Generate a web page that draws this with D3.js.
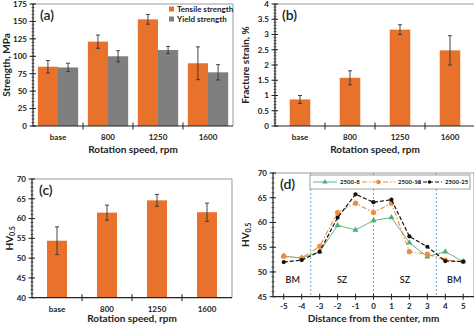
<!DOCTYPE html>
<html>
<head>
<meta charset="utf-8">
<script src="https://cdn.jsdelivr.net/npm/d3@7"></script>
<style>
  html, body { margin: 0; padding: 0; background: #fff; }
  svg { display: block; }
  text { font-family: Lato, "Open Sans", sans-serif; fill: #222; }
</style>
</head>
<body>
<svg id="chart" width="474" height="324"></svg>
<script>
// ---- data ----
const speeds = ["base", "800", "1250", "1600"];
const tensile = [85, 121, 153, 90];
const tensileErr = [9, 9.5, 7, 23.5];
const yieldStr = [84, 100, 109, 77];
const yieldErr = [6, 8, 5, 11];

const fractureStrain = [0.87, 1.58, 3.16, 2.48];
const fractureErr = [0.13, 0.23, 0.16, 0.48];

const hardness = [54.4, 61.5, 64.6, 61.6];
const hardnessErr = [3.5, 1.9, 1.5, 2.3];

const distance = [-5, -4, -3, -2, -1, 0, 1, 2, 3, 4, 5];
const hv2500_8  = [53.2, 52.8, 54.1, 59.4, 58.5, 60.4, 61.0, 55.9, 53.1, 54.1, 52.1];
const hv2500_12 = [53.2, 52.8, 55.2, 62.0, 63.9, 62.0, 63.9, 54.1, 53.6, 52.4, 52.1];
const hv2500_25 = [52.0, 52.4, 54.1, 61.0, 65.7, 64.1, 64.6, 57.2, 55.1, 52.2, 52.1];
const zoneBounds = [-3.5, 0, 3.5];
const zoneLabels = [["BM", -4.5], ["SZ", -1.75], ["SZ", 1.75], ["BM", 4.5]];

const ORANGE = "#E8712B";
const GRAY = "#7F7F7F";
const ERR = "#333";

const svg = d3.select("#chart");

// frame + y axis with major/minor ticks; returns y scale
function panel(g, o) {
  const y = d3.scaleLinear().domain(o.domain).range([o.bottom, o.top]);
  // gray frame (top and right)
  g.append("path")
    .attr("d", `M${o.left},${o.top}H${o.right}V${o.bottom}`)
    .attr("fill", "none").attr("stroke", "#9a9a9a").attr("stroke-width", 1);
  // minor ticks
  const minor = d3.range(o.domain[0], o.domain[1] + 1e-9, o.minor);
  g.selectAll(null).data(minor).enter().append("line")
    .attr("x1", o.left - 1.5).attr("x2", o.left + 1.5)
    .attr("y1", d => y(d)).attr("y2", d => y(d))
    .attr("stroke", "#333").attr("stroke-width", 0.7);
  // major ticks + labels
  const major = d3.range(o.domain[0], o.domain[1] + 1e-9, o.major);
  g.selectAll(null).data(major).enter().append("line")
    .attr("x1", o.left - 3.5).attr("x2", o.left + 3)
    .attr("y1", d => y(d)).attr("y2", d => y(d))
    .attr("stroke", "#222").attr("stroke-width", 1);
  g.selectAll(null).data(major).enter().append("text")
    .attr("x", o.left - 6).attr("y", d => y(d)).attr("dy", "0.35em")
    .attr("text-anchor", "end").attr("font-size", 8).attr("font-weight", 700)
    .text(d => o.fmt ? o.fmt(d) : d);
  // axis lines
  g.append("line").attr("x1", o.left).attr("x2", o.left)
    .attr("y1", o.top).attr("y2", o.bottom).attr("stroke", "#222").attr("stroke-width", 1.2);
  g.append("line").attr("x1", o.left).attr("x2", o.right)
    .attr("y1", o.bottom).attr("y2", o.bottom).attr("stroke", "#222").attr("stroke-width", 1.2);
  // y title
  const t = g.append("text")
    .attr("transform", `translate(${o.ytx},${(o.top + o.bottom) / 2}) rotate(-90)`)
    .attr("text-anchor", "middle").attr("dy", "0.35em")
    .attr("font-size", 10).attr("font-weight", 700);
  if (o.ysub) {
    t.append("tspan").text(o.ytitle);
    t.append("tspan").attr("font-size", 7).attr("dy", "0.3em").text(o.ysub);
  } else t.text(o.ytitle);
  // x title
  g.append("text").attr("x", (o.left + o.right) / 2).attr("y", o.xty)
    .attr("text-anchor", "middle").attr("font-size", 10).attr("font-weight", 700)
    .text(o.xtitle);
  // panel letter
  g.append("text").attr("x", o.left + 7).attr("y", o.top + 16)
    .attr("font-size", 14).attr("font-weight", 600).text(o.letter);
  return y;
}

function categoryAxis(g, o, x) {
  const bounds = speeds.slice(1).map(s => x(s) - x.step() * x.paddingInner() / 2);
  g.selectAll(null).data(bounds).enter().append("line")
    .attr("x1", d => d).attr("x2", d => d)
    .attr("y1", o.bottom - 3.5).attr("y2", o.bottom + 3.5)
    .attr("stroke", "#222").attr("stroke-width", 1);
  g.selectAll(null).data(speeds).enter().append("text")
    .attr("x", d => x(d) + x.bandwidth() / 2).attr("y", o.bottom + 11).attr("dy", "0.35em")
    .attr("text-anchor", "middle").attr("font-size", 8).attr("font-weight", 700)
    .text(d => d);
}

function errorBars(g, xs, vals, errs, y) {
  vals.forEach((v, i) => {
    const cx = xs[i];
    const p = d3.path();
    p.moveTo(cx, y(v + errs[i])); p.lineTo(cx, y(v - errs[i]));
    p.moveTo(cx - 2, y(v + errs[i])); p.lineTo(cx + 2, y(v + errs[i]));
    p.moveTo(cx - 2, y(v - errs[i])); p.lineTo(cx + 2, y(v - errs[i]));
    g.append("path").attr("d", p.toString()).attr("stroke", ERR)
      .attr("stroke-width", 0.9).attr("fill", "none");
  });
}

// ---- (a) strength ----
{
  const o = { left: 33, right: 233, top: 4, bottom: 126, domain: [0, 175], major: 25, minor: 5,
    ytitle: "Strength, MPa", ytx: 6, xtitle: "Rotation speed, rpm", xty: 153, letter: "(a)" };
  const g = svg.append("g");
  const x = d3.scaleBand().domain(speeds).range([o.left, o.right]).paddingInner(0).paddingOuter(0);
  const y = d3.scaleLinear().domain(o.domain).range([o.bottom, o.top]);
  const sub = d3.scaleBand().domain(["t", "y"]).range([0, x.bandwidth()]).paddingInner(0).paddingOuter(0.24);
  g.selectAll(null).data(speeds).enter().append("rect")
    .attr("x", d => x(d) + sub("t")).attr("width", sub.bandwidth())
    .attr("y", (d, i) => y(tensile[i])).attr("height", (d, i) => y(0) - y(tensile[i]))
    .attr("fill", ORANGE);
  g.selectAll(null).data(speeds).enter().append("rect")
    .attr("x", d => x(d) + sub("y")).attr("width", sub.bandwidth())
    .attr("y", (d, i) => y(yieldStr[i])).attr("height", (d, i) => y(0) - y(yieldStr[i]))
    .attr("fill", GRAY);
  errorBars(g, speeds.map(d => x(d) + sub("t") + sub.bandwidth() / 2), tensile, tensileErr, y);
  errorBars(g, speeds.map(d => x(d) + sub("y") + sub.bandwidth() / 2), yieldStr, yieldErr, y);
  panel(g, o);
  categoryAxis(g, o, x);
  // legend
  const leg = [["Tensile strength", ORANGE], ["Yield strength", GRAY]];
  leg.forEach(([name, c], i) => {
    g.append("rect").attr("x", 169).attr("y", 6.5 + i * 10).attr("width", 5).attr("height", 5).attr("fill", c);
    g.append("text").attr("x", 177).attr("y", 9 + i * 10).attr("dy", "0.35em")
      .attr("font-size", 8).attr("font-weight", 700).text(name);
  });
}

// ---- (b) fracture strain ----
{
  const o = { left: 275, right: 475, top: 4, bottom: 126, domain: [0, 4], major: 0.5, minor: 0.1,
    ytitle: "Fracture strain, %", ytx: 245, xtitle: "Rotation speed, rpm", xty: 153, letter: "(b)",
    fmt: d3.format("~g") };
  const g = svg.append("g");
  const x = d3.scaleBand().domain(speeds).range([o.left, o.right]);
  const y = d3.scaleLinear().domain(o.domain).range([o.bottom, o.top]);
  const bw = x.bandwidth() * 0.41;
  g.selectAll(null).data(speeds).enter().append("rect")
    .attr("x", d => x(d) + (x.bandwidth() - bw) / 2).attr("width", bw)
    .attr("y", (d, i) => y(fractureStrain[i])).attr("height", (d, i) => y(0) - y(fractureStrain[i]))
    .attr("fill", ORANGE);
  errorBars(g, speeds.map(d => x(d) + x.bandwidth() / 2), fractureStrain, fractureErr, y);
  panel(g, o);
  categoryAxis(g, o, x);
}

// ---- (c) hardness vs speed ----
{
  const o = { left: 32, right: 232, top: 179, bottom: 297.7, domain: [40, 70], major: 5, minor: 1,
    ytitle: "HV", ysub: "0.5", ytx: 9, xtitle: "Rotation speed, rpm", xty: 322, letter: "(c)" };
  const g = svg.append("g");
  const x = d3.scaleBand().domain(speeds).range([o.left, o.right]);
  const y = d3.scaleLinear().domain(o.domain).range([o.bottom, o.top]);
  const bw = x.bandwidth() * 0.4;
  g.selectAll(null).data(speeds).enter().append("rect")
    .attr("x", d => x(d) + (x.bandwidth() - bw) / 2).attr("width", bw)
    .attr("y", (d, i) => y(hardness[i])).attr("height", (d, i) => y(40) - y(hardness[i]))
    .attr("fill", ORANGE);
  errorBars(g, speeds.map(d => x(d) + x.bandwidth() / 2), hardness, hardnessErr, y);
  panel(g, o);
  categoryAxis(g, o, x);
}

// ---- (d) hardness profile ----
{
  const o = { left: 273, right: 474, top: 173, bottom: 296.7, domain: [45, 70], major: 5, minor: 1,
    ytitle: "HV", ysub: "0.5", ytx: 245, xtitle: "Distance from the center, mm", xty: 322, letter: "(d)" };
  const g = svg.append("g");
  const x = d3.scaleLinear().domain([-5.6, 5.6]).range([o.left, o.right]);
  const y = d3.scaleLinear().domain(o.domain).range([o.bottom, o.top]);
  // zone boundaries
  g.selectAll(null).data(zoneBounds).enter().append("line")
    .attr("x1", d => x(d)).attr("x2", d => x(d)).attr("y1", o.top).attr("y2", o.bottom)
    .attr("stroke", "#6FA8DC").attr("stroke-width", 1).attr("stroke-dasharray", "2,2");
  g.selectAll(null).data(zoneLabels).enter().append("text")
    .attr("x", d => x(d[1])).attr("y", y(48.5)).attr("dy", "0.35em")
    .attr("text-anchor", "middle").attr("font-size", 9).attr("font-weight", 600).text(d => d[0]);
  panel(g, o);
  // x ticks
  g.selectAll(null).data(distance).enter().append("line")
    .attr("x1", d => x(d)).attr("x2", d => x(d)).attr("y1", o.bottom - 3).attr("y2", o.bottom + 3)
    .attr("stroke", "#222");
  g.selectAll(null).data(distance).enter().append("text")
    .attr("x", d => x(d)).attr("y", o.bottom + 9).attr("dy", "0.35em")
    .attr("text-anchor", "middle").attr("font-size", 8).attr("font-weight", 700).text(d => d);

  const series = [
    { name: "2500-8", vals: hv2500_8, color: "#4CAF7A", dash: null, w: 0.9, marker: "tri" },
    { name: "2500-12", vals: hv2500_12, color: "#F08A3C", dash: "5,2,1.5,2", w: 1.1, marker: "circ" },
    { name: "2500-25", vals: hv2500_25, color: "#111", dash: "4,2", w: 1.2, marker: "dot" },
  ];
  const line = d3.line().x(d => x(d[0])).y(d => y(d[1]));
  function marker(sel, m, c, k = 1) {
    if (m === "tri") sel.append("path").attr("d", d3.symbol(d3.symbolTriangle, 16 * k * k)()).attr("fill", c);
    else if (m === "circ") sel.append("circle").attr("r", 2.6 * k).attr("fill", c);
    else sel.append("circle").attr("r", 2.1 * k).attr("fill", c);
  }
  series.forEach(s => {
    const pts = distance.map((d, i) => [d, s.vals[i]]);
    g.append("path").attr("d", line(pts)).attr("fill", "none")
      .attr("stroke", s.color).attr("stroke-width", s.w).attr("stroke-dasharray", s.dash);
    pts.forEach(p => {
      const m = g.append("g").attr("transform", `translate(${x(p[0])},${y(p[1])})`);
      marker(m, s.marker, s.color);
    });
  });
  // legend
  g.append("rect").attr("x", 310).attr("y", 175).attr("width", 160).attr("height", 14)
    .attr("fill", "#fff").attr("stroke", "#888").attr("stroke-width", 0.8);
  const lx = [[313, 337, 340], [362, 395, 398], [417, 442, 445]];
  series.forEach((s, i) => {
    const [a, b, tx] = lx[i];
    g.append("line").attr("x1", a).attr("x2", b).attr("y1", 182).attr("y2", 182)
      .attr("stroke", s.color).attr("stroke-width", s.w).attr("stroke-dasharray", s.dash);
    const m = g.append("g").attr("transform", `translate(${(a + b) / 2},182)`);
    marker(m, s.marker, s.color, 0.85);
    g.append("text").attr("x", tx).attr("y", 182).attr("dy", "0.35em")
      .attr("font-size", 6).attr("font-weight", 700).text(s.name);
  });
}
</script>
</body>
</html>
